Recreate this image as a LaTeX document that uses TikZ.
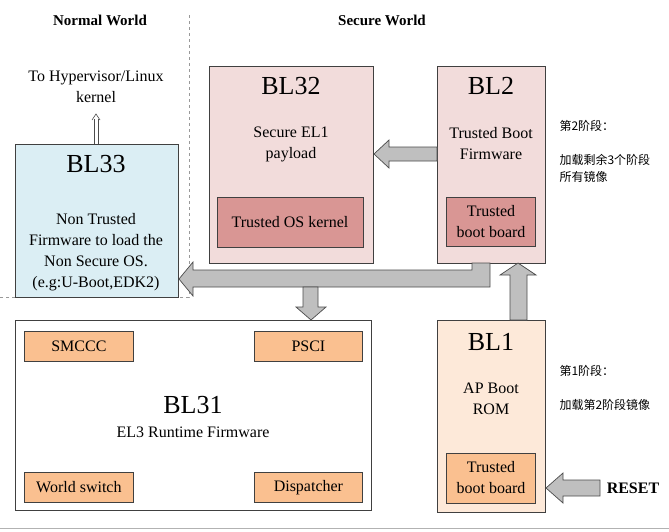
\documentclass[tikz,border=0pt]{standalone}
\usepackage{fontspec}
\setmainfont{Liberation Serif}
\newfontfamily\cjk{Noto Sans CJK SC}
\definecolor{pinkbg}{HTML}{F2DCDB}
\definecolor{redsub}{HTML}{D99694}
\definecolor{bluebg}{HTML}{DBEEF4}
\definecolor{peachbg}{HTML}{FDE9D9}
\definecolor{orsub}{HTML}{FAC090}
\begin{document}
\begin{tikzpicture}[x=1pt,y=-1pt,
 box/.style={draw=black!75,line width=0.8pt,anchor=north west,inner sep=0pt},
 garrow/.style={fill=black!25,draw=black!70,line width=0.7pt},
 title/.style={font=\fontsize{26}{28}\selectfont},
 body/.style={font=\fontsize{16}{21}\selectfont,align=center},
 zh/.style={font=\cjk\fontsize{12}{16}\selectfont,anchor=west}]
\useasboundingbox (0,0) rectangle (669,531);
\fill[white] (0,0) rectangle (669,531);
\draw[dashed,black!40] (189,15) -- (189,297) -- (0,297);
\draw[black!30,line width=1pt] (0,528) -- (669,528);
\node[font=\bfseries\fontsize{15}{16}\selectfont] (nw) at (100,20) {Normal World};
\node[font=\bfseries\fontsize{15}{16}\selectfont] (sw) at (382,20) {Secure World};
% boxes
\node[box,fill=pinkbg,minimum width=164,minimum height=197] (bl32) at (209,66) {};
\node[box,fill=pinkbg,minimum width=108,minimum height=197] (bl2) at (437,66) {};
\node[box,fill=redsub,minimum width=146,minimum height=50] (tos) at (217,197) {};
\node[box,fill=redsub,minimum width=89,minimum height=49] (tbb2) at (446,197) {};
\node[box,fill=bluebg,minimum width=163,minimum height=153] (bl33) at (15,144) {};
\node[box,fill=white,minimum width=356,minimum height=190] (bl31) at (15,320) {};
\node[box,fill=peachbg,minimum width=108,minimum height=192] (bl1) at (437,320) {};
\tikzset{sub/.style={box,fill=orsub,minimum height=30}}
\tikzset{subt/.style={font=\fontsize{16}{18}\selectfont}}
\node[sub,minimum width=109] (smc) at (24,331) {};
\node[sub,minimum width=108] (psci) at (254,331) {};
\node[sub,minimum width=109] (ws) at (24,472) {};
\node[sub,minimum width=108] (disp) at (254,472) {};
\node[box,fill=orsub,minimum width=89,minimum height=50] (tbb1) at (446,453) {};
% texts
\node[title] (t32) at (291,86) {BL32};
\node[body] (s32) at (291,144) {Secure EL1\\payload};
\node[body] (ttos) at (290,222) {Trusted OS kernel};
\node[title] (t2) at (491,86) {BL2};
\node[body] (s2) at (491,144) {Trusted Boot\\Firmware};
\node[body] (ttb2) at (491,222) {Trusted\\boot board};
\node[title] (t33) at (96,164) {BL33};
\node[body] (s33) at (96,252) {Non Trusted\\Firmware to load the\\Non Secure OS.\\(e.g:U-Boot,EDK2)};
\node[body] (hyp) at (96,87) {To Hypervisor/Linux\\kernel};
\node[title] (t31) at (193,405) {BL31};
\node[body] (s31) at (193,432) {EL3 Runtime Firmware};
\node[subt] at (smc.center) {SMCCC};
\node[subt] at (psci.center) {PSCI};
\node[subt] at (ws.center) {World switch};
\node[subt] at (disp.center) {Dispatcher};
\node[title] (t1) at (491,342) {BL1};
\node[body] (s1) at (491,399) {AP Boot\\ROM};
\node[body] (ttb1) at (491,478) {Trusted\\boot board};
\node[font=\bfseries\fontsize{16}{18}\selectfont] (reset) at (633,488) {RESET};
\node[zh] at (556,126) {第2阶段：};
\node[zh] at (556,160) {加载剩余3个阶段};
\node[zh] at (556,177) {所有镜像};
\node[zh] at (556,371) {第1阶段：};
\node[zh] at (556,405) {加载第2阶段镜像};
% arrows
\draw[garrow] (437,147) -- (389,147) -- (389,140) -- (374,154) -- (389,168) -- (389,161) -- (437,161) -- cycle;
\draw[garrow] (472,263) -- (490,263) -- (490,287) -- (193,287) -- (193,296) -- (179,279) -- (193,262) -- (193,270) -- (472,270) -- cycle;
\draw[garrow] (303,287) -- (318,287) -- (318,307) -- (326,307) -- (311,320) -- (296,307) -- (303,307) -- cycle;
\draw[garrow] (510,320) -- (527,320) -- (527,275) -- (536,275) -- (518,263) -- (500,275) -- (510,275) -- cycle;
\draw[garrow] (600,480) -- (563,480) -- (563,473) -- (546,488) -- (563,503) -- (563,496) -- (600,496) -- cycle;
\draw[black!70,line width=0.6pt] (94,144) -- (94,119) (98,144) -- (98,119);
\draw[black!70,line width=0.6pt] (92,120) -- (96,114) -- (100,120);
\end{tikzpicture}
\end{document}
